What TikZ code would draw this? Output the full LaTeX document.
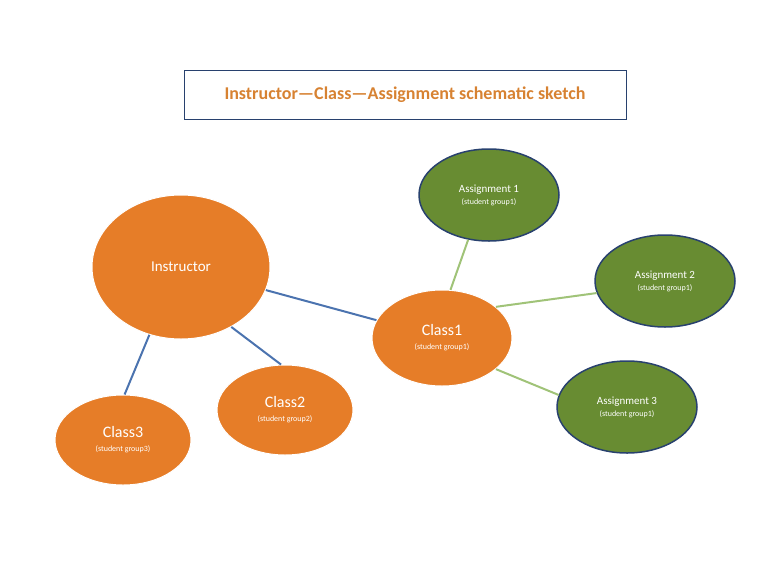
\documentclass[tikz,border=0pt]{standalone}
\usepackage{fontspec}
\setmainfont{Carlito}
\usetikzlibrary{shapes.geometric}
\definecolor{orangefill}{RGB}{230,125,40}
\definecolor{greenfill}{RGB}{104,140,50}
\definecolor{navyline}{RGB}{40,65,110}
\definecolor{blueline}{RGB}{75,115,175}
\definecolor{greenline}{RGB}{160,195,120}
\definecolor{titlecol}{RGB}{215,130,50}
\tikzset{
  classnode/.style={ellipse, fill=orangefill, draw=white, line width=1pt, text=white, inner sep=0pt, align=center},
  tasknode/.style={ellipse, fill=greenfill, draw=navyline, line width=1.5pt, text=white, inner sep=0pt, align=center,
    minimum width=140pt, minimum height=92pt},
  small/.style={font=\fontsize{8}{9}\selectfont}
}
\begin{document}
\begin{tikzpicture}[x=1pt,y=-1pt]
  \useasboundingbox (0,0) rectangle (768,576);
  \node[draw=navyline, line width=1pt, minimum width=442pt, minimum height=49pt,
    font=\fontsize{18}{20}\selectfont\bfseries, text=titlecol] (title) at (405,95)
    {Instructor—Class—Assignment schematic sketch};

  \node[classnode, minimum width=178pt, minimum height=144pt, font=\fontsize{15}{17}\selectfont] (instructor) at (181,267) {Instructor};
  \node[classnode, minimum width=140pt, minimum height=96pt] (class1) at (442,338)
    {{\fontsize{16}{18}\selectfont Class1}\\[2pt]{\small\fontsize{8}{9}\selectfont(student group1)}};
  \node[classnode, minimum width=136pt, minimum height=90pt] (class2) at (285,410)
    {{\fontsize{16}{18}\selectfont Class2}\\[2pt]{\fontsize{8}{9}\selectfont(student group2)}};
  \node[classnode, minimum width=136pt, minimum height=90pt] (class3) at (123,440)
    {{\fontsize{16}{18}\selectfont Class3}\\[2pt]{\fontsize{8}{9}\selectfont(student group3)}};

  \node[tasknode] (assign1) at (489,195) {{\fontsize{11}{13}\selectfont Assignment 1}\\{\fontsize{8}{9}\selectfont(student group1)}};
  \node[tasknode] (assign2) at (665,281) {{\fontsize{11}{13}\selectfont Assignment 2}\\{\fontsize{8}{9}\selectfont(student group1)}};
  \node[tasknode] (assign3) at (627,407) {{\fontsize{11}{13}\selectfont Assignment 3}\\{\fontsize{8}{9}\selectfont(student group1)}};

  % connectors
  \draw[blueline, line width=2pt] (instructor) -- (class1);
  \draw[blueline, line width=2pt] (instructor.-50) -- (class2.95);
  \draw[blueline, line width=2pt] (instructor.-115) -- (class3.88);
  \draw[greenline, line width=2pt] (class1.80) -- (assign1.-115);
  \draw[greenline, line width=2pt] (class1.30) -- (assign2.190);
  \draw[greenline, line width=2pt] (class1.-30) -- (assign3.170);
\end{tikzpicture}
\end{document}
